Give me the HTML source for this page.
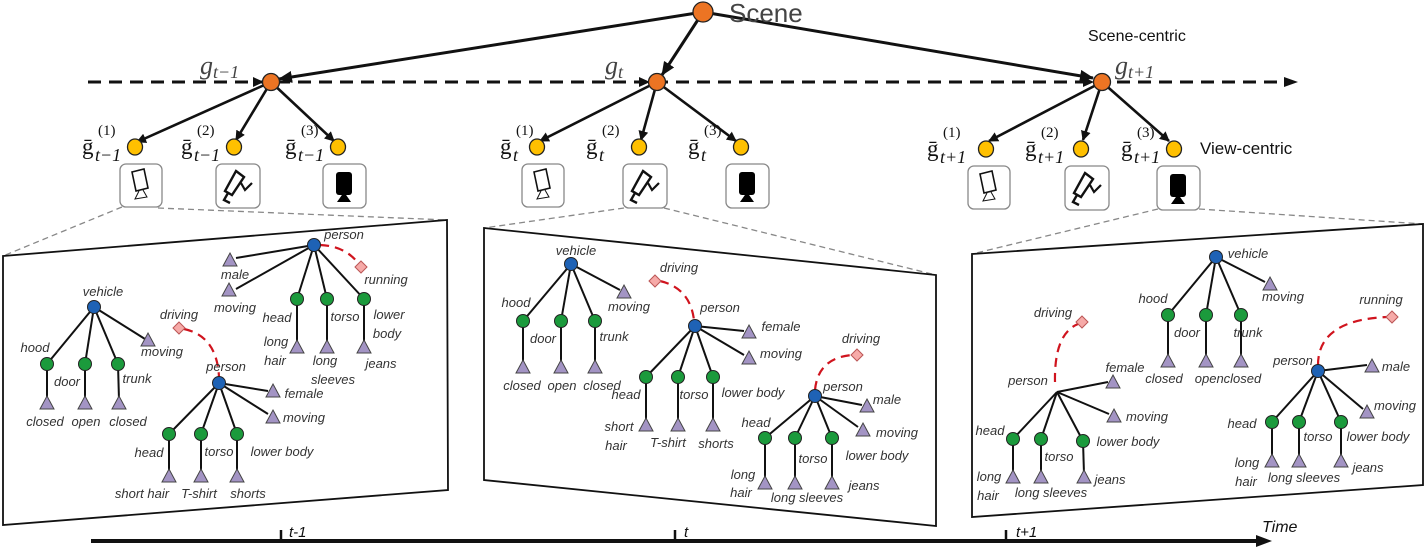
<!DOCTYPE html>
<html><head><meta charset="utf-8"><style>
html,body{margin:0;padding:0;background:#fff;}
svg{display:block;}
.l{font-family:"Liberation Sans",sans-serif;font-style:italic;font-size:13px;fill:#333;text-anchor:middle;}
.e{stroke:#111;stroke-width:2;fill:none;}
.r{stroke:#d0141e;stroke-width:2.2;fill:none;stroke-dasharray:9 6;}
.gb{font-family:"Liberation Serif",serif;fill:#111;font-size:23px;}
.gs{font-family:"Liberation Serif",serif;fill:#111;font-size:15px;}
.gi{font-family:"Liberation Serif",serif;fill:#111;font-size:18px;font-style:italic;}
</style></head><body>
<svg width="1426" height="548" viewBox="0 0 1426 548" xmlns="http://www.w3.org/2000/svg">
<defs>
<marker id="ah" markerWidth="10" markerHeight="10" refX="9" refY="5" orient="auto" markerUnits="userSpaceOnUse"><path d="M0,0 L10,5 L0,10 z" fill="#111"/></marker>
<marker id="ah2" markerWidth="14" markerHeight="12" refX="13" refY="6" orient="auto" markerUnits="userSpaceOnUse"><path d="M0,0 L14,6 L0,12 z" fill="#111"/></marker>
<g id="T"><path d="M0,-7 L7,6 L-7,6 z" fill="#a394c4" stroke="#444" stroke-width="1"/></g>
<g id="G"><circle r="6.5" fill="#1b9a3c" stroke="#222" stroke-width="1"/></g>
<g id="B"><circle r="6.5" fill="#1e62b5" stroke="#222" stroke-width="1"/></g>
<g id="D"><path d="M0,-6 L6,0 L0,6 L-6,0 z" fill="#f6aaa8" stroke="#b55" stroke-width="1"/></g>
<g id="C1"><rect x="-21" y="0" width="42" height="43" rx="6" fill="#fff" stroke="#888" stroke-width="1.3"/><path d="M-9,8 L3,5 L7,24 L-5,27 z" fill="#fff" stroke="#111" stroke-width="1.6"/><path d="M-2,27 L-6,35 L6,33 L2,26" fill="none" stroke="#111" stroke-width="1"/></g>
<g id="C2"><rect x="-21" y="0" width="44" height="44" rx="6" fill="#fff" stroke="#888" stroke-width="1.3"/><path d="M-1,7 L7,13 L-5,31 L-12,27 z" fill="#fff" stroke="#111" stroke-width="2.4"/><path d="M-9,29 L-13,36 L-7,39" fill="none" stroke="#111" stroke-width="2.4"/><path d="M4,19 L8,26 L15,19" fill="none" stroke="#111" stroke-width="2.2"/></g>
<g id="C3"><rect x="-21" y="0" width="43" height="44" rx="6" fill="#fff" stroke="#888" stroke-width="1.3"/><rect x="-8" y="8" width="16" height="23" rx="3" fill="#000"/><path d="M0,28 L7,38 L-7,38 z" fill="#000"/></g>
</defs>

<!-- top -->
<line x1="88" y1="82" x2="1292" y2="82" stroke="#111" stroke-width="3" stroke-dasharray="13 8"/>
<path d="M1284,77 L1298,82 L1284,87 z" fill="#111"/>
<path d="M253,77 L264,82 L253,87 z" fill="#111"/>
<path d="M639,77 L650,82 L639,87 z" fill="#111"/>
<path d="M1083,77 L1094,82 L1083,87 z" fill="#111"/>
<line x1="703" y1="12" x2="279" y2="79" stroke="#111" stroke-width="3" marker-end="url(#ah2)"/>
<line x1="703" y1="12" x2="662" y2="75" stroke="#111" stroke-width="3" marker-end="url(#ah2)"/>
<line x1="703" y1="12" x2="1093" y2="78" stroke="#111" stroke-width="3" marker-end="url(#ah2)"/>
<circle cx="703" cy="12" r="10" fill="#ec7423" stroke="#222" stroke-width="1.3"/>
<text x="729" y="22" font-family="Liberation Sans,sans-serif" font-size="26" fill="#444">Scene</text>
<text x="1088" y="41" font-family="Liberation Sans,sans-serif" font-size="16" fill="#111">Scene-centric</text>
<text x="1200" y="154" font-family="Liberation Sans,sans-serif" font-size="17" fill="#111">View-centric</text>

<!-- g groups -->
<g stroke="#111" stroke-width="2.6" fill="none">
<line x1="271" y1="82" x2="137" y2="142" marker-end="url(#ah)"/>
<line x1="271" y1="82" x2="236" y2="140" marker-end="url(#ah)"/>
<line x1="271" y1="82" x2="334" y2="141" marker-end="url(#ah)"/>
<line x1="657" y1="82" x2="540" y2="141" marker-end="url(#ah)"/>
<line x1="657" y1="82" x2="641" y2="140" marker-end="url(#ah)"/>
<line x1="657" y1="82" x2="736" y2="141" marker-end="url(#ah)"/>
<line x1="1102" y1="82" x2="989" y2="141" marker-end="url(#ah)"/>
<line x1="1102" y1="82" x2="1083" y2="140" marker-end="url(#ah)"/>
<line x1="1102" y1="82" x2="1169" y2="141" marker-end="url(#ah)"/>
</g>
<g fill="#ec7423" stroke="#222" stroke-width="1.3">
<circle cx="271" cy="82" r="8.5"/><circle cx="657" cy="82" r="8.5"/><circle cx="1102" cy="82" r="8.5"/>
</g>
<g fill="#ffc000" stroke="#222" stroke-width="1.3">
<ellipse cx="135" cy="147" rx="7.5" ry="8"/><ellipse cx="234" cy="147" rx="7.5" ry="8"/><ellipse cx="338" cy="147" rx="7.5" ry="8"/>
<ellipse cx="537" cy="147" rx="7.5" ry="8"/><ellipse cx="639" cy="147" rx="7.5" ry="8"/><ellipse cx="741" cy="147" rx="7.5" ry="8"/>
<ellipse cx="986" cy="149" rx="7.5" ry="8"/><ellipse cx="1081" cy="149" rx="7.5" ry="8"/><ellipse cx="1174" cy="149" rx="7.5" ry="8"/>
</g>
<g font-family="Liberation Serif,serif" fill="#444">
<text x="200" y="74" font-size="26" font-style="italic">g<tspan font-size="18" dy="4">t−1</tspan></text>
<text x="605" y="74" font-size="26" font-style="italic">g<tspan font-size="18" dy="4">t</tspan></text>
<text x="1115" y="74" font-size="26" font-style="italic">g<tspan font-size="18" dy="4">t+1</tspan></text>
</g>
<!-- view labels -->
<text class="gb" x="82" y="154">ḡ</text><text class="gs" x="98" y="135">(1)</text><text class="gi" x="95" y="161">t−1</text>
<text class="gb" x="181" y="154">ḡ</text><text class="gs" x="197" y="135">(2)</text><text class="gi" x="194" y="161">t−1</text>
<text class="gb" x="285" y="154">ḡ</text><text class="gs" x="301" y="135">(3)</text><text class="gi" x="298" y="161">t−1</text>
<text class="gb" x="500" y="154">ḡ</text><text class="gs" x="516" y="135">(1)</text><text class="gi" x="513" y="161">t</text>
<text class="gb" x="586" y="154">ḡ</text><text class="gs" x="602" y="135">(2)</text><text class="gi" x="599" y="161">t</text>
<text class="gb" x="688" y="154">ḡ</text><text class="gs" x="704" y="135">(3)</text><text class="gi" x="701" y="161">t</text>
<text class="gb" x="927" y="156">ḡ</text><text class="gs" x="943" y="137">(1)</text><text class="gi" x="940" y="163">t+1</text>
<text class="gb" x="1025" y="156">ḡ</text><text class="gs" x="1041" y="137">(2)</text><text class="gi" x="1038" y="163">t+1</text>
<text class="gb" x="1121" y="156">ḡ</text><text class="gs" x="1137" y="137">(3)</text><text class="gi" x="1134" y="163">t+1</text>

<use href="#C1" x="141" y="164"/><use href="#C2" x="237" y="164"/><use href="#C3" x="344" y="164"/>
<use href="#C1" x="543" y="164"/><use href="#C2" x="644" y="164"/><use href="#C3" x="747" y="164"/>
<use href="#C1" x="989" y="166"/><use href="#C2" x="1086" y="166"/><use href="#C3" x="1178" y="166"/>

<!-- projection dashes -->
<g stroke="#888" stroke-width="1.3" stroke-dasharray="6 4">
<line x1="122" y1="207" x2="3" y2="256"/><line x1="158" y1="208" x2="447" y2="220"/>
<line x1="624" y1="208" x2="484" y2="228"/><line x1="664" y1="208" x2="936" y2="275"/>
<line x1="1158" y1="209" x2="972" y2="254"/><line x1="1199" y1="209" x2="1423" y2="224"/>
</g>
<!-- panels -->
<g fill="#fff" stroke="#111" stroke-width="1.8">
<path d="M3,256 L447,220 L448,490 L3,525 z"/>
<path d="M484,228 L936,275 L936,526 L484,480 z"/>
<path d="M972,254 L1423,224 L1423,485 L972,517 z"/>
</g>

<!-- LEFT PANEL -->
<g class="e">
<line x1="94" y1="307" x2="47" y2="364"/><line x1="94" y1="307" x2="85" y2="364"/><line x1="94" y1="307" x2="118" y2="364"/><line x1="94" y1="307" x2="145" y2="339"/>
<line x1="47" y1="364" x2="47" y2="400"/><line x1="85" y1="364" x2="85" y2="400"/><line x1="118" y1="364" x2="119" y2="400"/>
<line x1="219" y1="383" x2="268" y2="391"/><line x1="219" y1="383" x2="268" y2="414"/>
<line x1="219" y1="383" x2="169" y2="434"/><line x1="219" y1="383" x2="201" y2="434"/><line x1="219" y1="383" x2="237" y2="434"/>
<line x1="169" y1="434" x2="169" y2="473"/><line x1="201" y1="434" x2="201" y2="473"/><line x1="237" y1="434" x2="237" y2="473"/>
<line x1="314" y1="245" x2="236" y2="258"/><line x1="314" y1="245" x2="236" y2="289"/>
<line x1="314" y1="245" x2="297" y2="299"/><line x1="314" y1="245" x2="327" y2="299"/><line x1="314" y1="245" x2="364" y2="299"/>
<line x1="297" y1="299" x2="297" y2="344"/><line x1="327" y1="299" x2="327" y2="344"/><line x1="364" y1="299" x2="364" y2="344"/>
</g>
<path class="r" d="M184,329 Q217,336 219,377"/>
<path class="r" d="M320,245 Q345,246 358,263"/>
<use href="#B" x="94" y="307"/>
<use href="#G" x="47" y="364"/><use href="#G" x="85" y="364"/><use href="#G" x="118" y="364"/>
<use href="#T" x="47" y="403"/><use href="#T" x="85" y="403"/><use href="#T" x="119" y="403"/><use href="#T" x="148" y="340"/>
<use href="#B" x="219" y="383"/><use href="#D" x="179" y="328"/>
<use href="#T" x="273" y="391"/><use href="#T" x="273" y="417"/>
<use href="#G" x="169" y="434"/><use href="#G" x="201" y="434"/><use href="#G" x="237" y="434"/>
<use href="#T" x="169" y="476"/><use href="#T" x="201" y="476"/><use href="#T" x="237" y="476"/>
<use href="#B" x="314" y="245"/><use href="#D" x="361" y="267"/>
<use href="#T" x="230" y="260"/><use href="#T" x="229" y="290"/>
<use href="#G" x="297" y="299"/><use href="#G" x="327" y="299"/><use href="#G" x="364" y="299"/>
<use href="#T" x="297" y="347"/><use href="#T" x="327" y="347"/><use href="#T" x="364" y="347"/>
<g class="l">
<text x="103" y="296">vehicle</text><text x="35" y="352">hood</text><text x="67" y="386">door</text><text x="137" y="383">trunk</text><text x="162" y="356">moving</text>
<text x="45" y="426">closed</text><text x="86" y="426">open</text><text x="128" y="426">closed</text>
<text x="226" y="371">person</text><text x="179" y="319">driving</text>
<text x="304" y="398">female</text><text x="304" y="422">moving</text>
<text x="149" y="457">head</text><text x="219" y="456">torso</text><text x="282" y="456">lower body</text>
<text x="142" y="498">short hair</text><text x="199" y="498">T-shirt</text><text x="248" y="498">shorts</text>
<text x="344" y="239">person</text><text x="235" y="279">male</text><text x="235" y="312">moving</text><text x="386" y="284">running</text>
<text x="277" y="322">head</text><text x="345" y="321">torso</text><text x="389" y="319">lower</text><text x="387" y="338">body</text>
<text x="276" y="346">long</text><text x="275" y="365">hair</text><text x="325" y="365">long</text><text x="333" y="384">sleeves</text><text x="381" y="368">jeans</text>
</g>

<!-- MIDDLE PANEL -->
<g class="e">
<line x1="571" y1="264" x2="523" y2="321"/><line x1="571" y1="264" x2="561" y2="321"/><line x1="571" y1="264" x2="595" y2="321"/><line x1="571" y1="264" x2="620" y2="290"/>
<line x1="523" y1="321" x2="523" y2="364"/><line x1="561" y1="321" x2="561" y2="364"/><line x1="595" y1="321" x2="595" y2="364"/>
<line x1="695" y1="326" x2="744" y2="331"/><line x1="695" y1="326" x2="744" y2="355"/>
<line x1="695" y1="326" x2="646" y2="377"/><line x1="695" y1="326" x2="678" y2="377"/><line x1="695" y1="326" x2="713" y2="377"/>
<line x1="646" y1="377" x2="646" y2="422"/><line x1="678" y1="377" x2="678" y2="422"/><line x1="713" y1="377" x2="713" y2="422"/>
<line x1="815" y1="396" x2="862" y2="405"/><line x1="815" y1="396" x2="858" y2="427"/>
<line x1="815" y1="396" x2="765" y2="438"/><line x1="815" y1="396" x2="795" y2="438"/><line x1="815" y1="396" x2="832" y2="438"/>
<line x1="765" y1="438" x2="765" y2="480"/><line x1="795" y1="438" x2="795" y2="480"/><line x1="832" y1="438" x2="832" y2="480"/>
</g>
<path class="r" d="M660,281 Q690,288 694,320"/>
<path class="r" d="M815,390 Q818,358 852,355"/>
<use href="#B" x="571" y="264"/>
<use href="#G" x="523" y="321"/><use href="#G" x="561" y="321"/><use href="#G" x="595" y="321"/>
<use href="#T" x="523" y="367"/><use href="#T" x="561" y="367"/><use href="#T" x="595" y="367"/><use href="#T" x="624" y="292"/>
<use href="#B" x="695" y="326"/><use href="#D" x="655" y="281"/>
<use href="#T" x="749" y="332"/><use href="#T" x="749" y="358"/>
<use href="#G" x="646" y="377"/><use href="#G" x="678" y="377"/><use href="#G" x="713" y="377"/>
<use href="#T" x="646" y="425"/><use href="#T" x="678" y="425"/><use href="#T" x="713" y="425"/>
<use href="#B" x="815" y="396"/><use href="#D" x="857" y="355"/>
<use href="#T" x="867" y="406"/><use href="#T" x="863" y="430"/>
<use href="#G" x="765" y="438"/><use href="#G" x="795" y="438"/><use href="#G" x="832" y="438"/>
<use href="#T" x="765" y="483"/><use href="#T" x="795" y="483"/><use href="#T" x="832" y="483"/>
<g class="l">
<text x="576" y="255">vehicle</text><text x="516" y="307">hood</text><text x="543" y="343">door</text><text x="614" y="341">trunk</text><text x="629" y="311">moving</text>
<text x="522" y="390">closed</text><text x="562" y="390">open</text><text x="602" y="390">closed</text>
<text x="720" y="312">person</text><text x="679" y="272">driving</text><text x="781" y="331">female</text><text x="781" y="358">moving</text>
<text x="626" y="399">head</text><text x="694" y="399">torso</text><text x="753" y="397">lower body</text>
<text x="619" y="431">short</text><text x="616" y="450">hair</text><text x="668" y="447">T-shirt</text><text x="716" y="448">shorts</text>
<text x="843" y="391">person</text><text x="861" y="343">driving</text><text x="887" y="404">male</text><text x="897" y="437">moving</text>
<text x="756" y="427">head</text><text x="813" y="463">torso</text><text x="877" y="460">lower body</text>
<text x="743" y="479">long</text><text x="741" y="497">hair</text><text x="807" y="502">long sleeves</text><text x="864" y="490">jeans</text>
</g>

<!-- RIGHT PANEL -->
<g class="e">
<line x1="1216" y1="257" x2="1168" y2="315"/><line x1="1216" y1="257" x2="1206" y2="315"/><line x1="1216" y1="257" x2="1241" y2="315"/><line x1="1216" y1="257" x2="1265" y2="282"/>
<line x1="1168" y1="315" x2="1168" y2="358"/><line x1="1206" y1="315" x2="1206" y2="358"/><line x1="1241" y1="315" x2="1241" y2="358"/>
<line x1="1057" y1="392" x2="1108" y2="382"/><line x1="1057" y1="392" x2="1109" y2="414"/>
<line x1="1057" y1="392" x2="1013" y2="439"/><line x1="1057" y1="392" x2="1041" y2="439"/><line x1="1057" y1="392" x2="1083" y2="441"/>
<line x1="1013" y1="439" x2="1013" y2="474"/><line x1="1041" y1="439" x2="1041" y2="474"/><line x1="1083" y1="441" x2="1084" y2="474"/>
<line x1="1318" y1="371" x2="1367" y2="365"/><line x1="1318" y1="371" x2="1363" y2="409"/>
<line x1="1318" y1="371" x2="1272" y2="422"/><line x1="1318" y1="371" x2="1299" y2="422"/><line x1="1318" y1="371" x2="1341" y2="422"/>
<line x1="1272" y1="422" x2="1272" y2="458"/><line x1="1299" y1="422" x2="1299" y2="458"/><line x1="1341" y1="422" x2="1341" y2="458"/>
</g>
<path class="r" d="M1055,382 Q1054,334 1078,324"/>
<path class="r" d="M1318,365 Q1318,320 1387,317"/>
<use href="#B" x="1216" y="257"/>
<use href="#G" x="1168" y="315"/><use href="#G" x="1206" y="315"/><use href="#G" x="1241" y="315"/>
<use href="#T" x="1168" y="361"/><use href="#T" x="1206" y="361"/><use href="#T" x="1241" y="361"/><use href="#T" x="1270" y="284"/>
<use href="#D" x="1082" y="322"/>
<use href="#T" x="1113" y="382"/><use href="#T" x="1114" y="416"/>
<use href="#G" x="1013" y="439"/><use href="#G" x="1041" y="439"/><use href="#G" x="1083" y="441"/>
<use href="#T" x="1013" y="477"/><use href="#T" x="1041" y="477"/><use href="#T" x="1084" y="477"/>
<use href="#B" x="1318" y="371"/><use href="#D" x="1392" y="317"/>
<use href="#T" x="1372" y="366"/><use href="#T" x="1367" y="412"/>
<use href="#G" x="1272" y="422"/><use href="#G" x="1299" y="422"/><use href="#G" x="1341" y="422"/>
<use href="#T" x="1272" y="461"/><use href="#T" x="1299" y="461"/><use href="#T" x="1341" y="461"/>
<g class="l">
<text x="1248" y="258">vehicle</text><text x="1153" y="303">hood</text><text x="1187" y="337">door</text><text x="1248" y="337">trunk</text><text x="1283" y="301">moving</text>
<text x="1164" y="383">closed</text><text x="1228" y="383">openclosed</text>
<text x="1028" y="385">person</text><text x="1053" y="317">driving</text><text x="1125" y="372">female</text><text x="1147" y="421">moving</text>
<text x="990" y="435">head</text><text x="1059" y="461">torso</text><text x="1128" y="446">lower body</text>
<text x="989" y="481">long</text><text x="988" y="500">hair</text><text x="1051" y="497">long sleeves</text><text x="1110" y="484">jeans</text>
<text x="1293" y="365">person</text><text x="1381" y="304">running</text><text x="1396" y="371">male</text><text x="1395" y="410">moving</text>
<text x="1242" y="428">head</text><text x="1318" y="441">torso</text><text x="1378" y="441">lower body</text>
<text x="1247" y="467">long</text><text x="1246" y="486">hair</text><text x="1304" y="482">long sleeves</text><text x="1368" y="472">jeans</text>
</g>

<!-- timeline -->
<line x1="91" y1="541" x2="1262" y2="541" stroke="#111" stroke-width="4"/>
<path d="M1256,535 L1272,541 L1256,547 z" fill="#111"/>
<g stroke="#111" stroke-width="2.5"><line x1="281" y1="541" x2="281" y2="530"/><line x1="675" y1="541" x2="675" y2="530"/><line x1="1006" y1="541" x2="1006" y2="530"/></g>
<g font-family="Liberation Sans,sans-serif" font-style="italic" font-size="15" fill="#111">
<text x="289" y="537">t-1</text><text x="684" y="537">t</text><text x="1016" y="537">t+1</text><text x="1262" y="532" font-size="16">Time</text>
</g>
</svg>
</body></html>
